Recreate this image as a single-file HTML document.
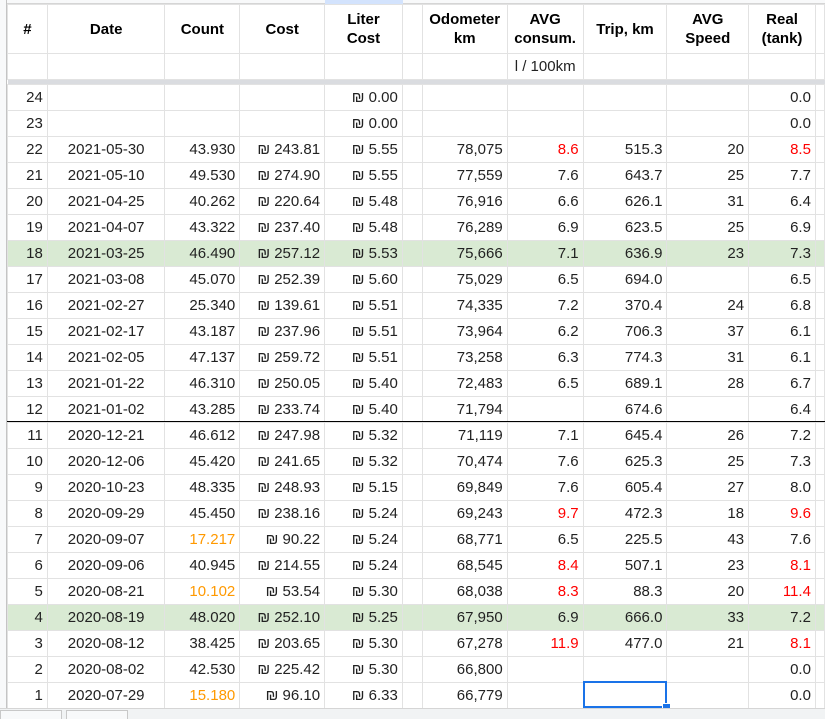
<!DOCTYPE html>
<html><head><meta charset="utf-8"><style>
body{margin:0;width:825px;height:718px;overflow:hidden;background:#fff;font-family:"Liberation Sans",Arial,sans-serif;color:#222;position:relative}
#top{position:absolute;left:0;top:0;width:825px;height:4px;background:#f8f9fa;border-bottom:1px solid #d5d5d5;box-sizing:border-box}
#hl{position:absolute;left:325px;top:0;width:78px;height:4px;background:#d3e3fd}
#side{position:absolute;left:0;top:0;width:7px;height:708px;background:#f8f9fa;border-right:1px solid #c4c4c4;box-sizing:border-box}
table{position:absolute;left:7px;top:4px;border-collapse:collapse;table-layout:fixed}
td{border:1px solid #e2e2e2;padding:0 4px;font-size:15px;height:25px;text-align:right;white-space:nowrap;overflow:hidden;box-sizing:border-box}
tr.h td{font-weight:bold;text-align:center;height:49px;line-height:19px;font-size:15px;color:#000}
tr.u td{height:26px}
tr.sep td{height:5px;background:#dadce0;border:none;padding:0}
tr.r td{height:26px}
tr.g td{background:#d9ead3}
tr.bb td{border-bottom:1px solid #000 !important}
td.c{text-align:center}
.red{color:#ff0000}.or{color:#ff9900}
#sel{position:absolute;left:583px;top:681px;width:84px;height:27px;border:2px solid #1a73e8;box-sizing:border-box}
#hd{position:absolute;left:662px;top:703px;width:7px;height:7px;background:#1a73e8;border:1px solid #fff}
#line{position:absolute;left:7px;top:421px;width:818px;height:1px;background:#000}
#bot{position:absolute;left:0;top:708px;width:825px;height:10px;background:#f1f3f4;border-top:1px solid #d5d5d5}
.tab{position:absolute;top:710px;height:8px;border:1px solid #c8c8c8;border-bottom:none;background:#f8f9fa}
</style></head><body>
<div id="top"></div><div id="hl"></div><div id="side"></div>
<table>
<colgroup><col style="width:40px"><col style="width:118px"><col style="width:75px"><col style="width:85px"><col style="width:78px"><col style="width:20px"><col style="width:85px"><col style="width:76px"><col style="width:84px"><col style="width:82px"><col style="width:67px"><col style="width:8px"></colgroup>
<tr class="h"><td>#</td><td>Date</td><td>Count</td><td>Cost</td><td>Liter<br>Cost</td><td></td><td>Odometer<br>km</td><td>AVG<br>consum.</td><td>Trip, km</td><td>AVG<br>Speed</td><td>Real<br>(tank)</td><td></td></tr>
<tr class="u"><td></td><td></td><td></td><td></td><td></td><td></td><td></td><td class="c" style="font-weight:normal">l / 100km</td><td></td><td></td><td></td><td></td></tr>
<tr class="sep"><td colspan="12"></td></tr>
<tr class="r"><td>24</td><td></td><td></td><td></td><td>₪ 0.00</td><td></td><td></td><td></td><td></td><td></td><td>0.0</td><td></td></tr>
<tr class="r"><td>23</td><td></td><td></td><td></td><td>₪ 0.00</td><td></td><td></td><td></td><td></td><td></td><td>0.0</td><td></td></tr>
<tr class="r"><td>22</td><td class="c">2021-05-30</td><td>43.930</td><td>₪ 243.81</td><td>₪ 5.55</td><td></td><td>78,075</td><td class="red">8.6</td><td>515.3</td><td>20</td><td class="red">8.5</td><td></td></tr>
<tr class="r"><td>21</td><td class="c">2021-05-10</td><td>49.530</td><td>₪ 274.90</td><td>₪ 5.55</td><td></td><td>77,559</td><td>7.6</td><td>643.7</td><td>25</td><td>7.7</td><td></td></tr>
<tr class="r"><td>20</td><td class="c">2021-04-25</td><td>40.262</td><td>₪ 220.64</td><td>₪ 5.48</td><td></td><td>76,916</td><td>6.6</td><td>626.1</td><td>31</td><td>6.4</td><td></td></tr>
<tr class="r"><td>19</td><td class="c">2021-04-07</td><td>43.322</td><td>₪ 237.40</td><td>₪ 5.48</td><td></td><td>76,289</td><td>6.9</td><td>623.5</td><td>25</td><td>6.9</td><td></td></tr>
<tr class="r g"><td>18</td><td class="c">2021-03-25</td><td>46.490</td><td>₪ 257.12</td><td>₪ 5.53</td><td></td><td>75,666</td><td>7.1</td><td>636.9</td><td>23</td><td>7.3</td><td></td></tr>
<tr class="r"><td>17</td><td class="c">2021-03-08</td><td>45.070</td><td>₪ 252.39</td><td>₪ 5.60</td><td></td><td>75,029</td><td>6.5</td><td>694.0</td><td></td><td>6.5</td><td></td></tr>
<tr class="r"><td>16</td><td class="c">2021-02-27</td><td>25.340</td><td>₪ 139.61</td><td>₪ 5.51</td><td></td><td>74,335</td><td>7.2</td><td>370.4</td><td>24</td><td>6.8</td><td></td></tr>
<tr class="r"><td>15</td><td class="c">2021-02-17</td><td>43.187</td><td>₪ 237.96</td><td>₪ 5.51</td><td></td><td>73,964</td><td>6.2</td><td>706.3</td><td>37</td><td>6.1</td><td></td></tr>
<tr class="r"><td>14</td><td class="c">2021-02-05</td><td>47.137</td><td>₪ 259.72</td><td>₪ 5.51</td><td></td><td>73,258</td><td>6.3</td><td>774.3</td><td>31</td><td>6.1</td><td></td></tr>
<tr class="r"><td>13</td><td class="c">2021-01-22</td><td>46.310</td><td>₪ 250.05</td><td>₪ 5.40</td><td></td><td>72,483</td><td>6.5</td><td>689.1</td><td>28</td><td>6.7</td><td></td></tr>
<tr class="r"><td>12</td><td class="c">2021-01-02</td><td>43.285</td><td>₪ 233.74</td><td>₪ 5.40</td><td></td><td>71,794</td><td></td><td>674.6</td><td></td><td>6.4</td><td></td></tr>
<tr class="r"><td>11</td><td class="c">2020-12-21</td><td>46.612</td><td>₪ 247.98</td><td>₪ 5.32</td><td></td><td>71,119</td><td>7.1</td><td>645.4</td><td>26</td><td>7.2</td><td></td></tr>
<tr class="r"><td>10</td><td class="c">2020-12-06</td><td>45.420</td><td>₪ 241.65</td><td>₪ 5.32</td><td></td><td>70,474</td><td>7.6</td><td>625.3</td><td>25</td><td>7.3</td><td></td></tr>
<tr class="r"><td>9</td><td class="c">2020-10-23</td><td>48.335</td><td>₪ 248.93</td><td>₪ 5.15</td><td></td><td>69,849</td><td>7.6</td><td>605.4</td><td>27</td><td>8.0</td><td></td></tr>
<tr class="r"><td>8</td><td class="c">2020-09-29</td><td>45.450</td><td>₪ 238.16</td><td>₪ 5.24</td><td></td><td>69,243</td><td class="red">9.7</td><td>472.3</td><td>18</td><td class="red">9.6</td><td></td></tr>
<tr class="r"><td>7</td><td class="c">2020-09-07</td><td class="or">17.217</td><td>₪ 90.22</td><td>₪ 5.24</td><td></td><td>68,771</td><td>6.5</td><td>225.5</td><td>43</td><td>7.6</td><td></td></tr>
<tr class="r"><td>6</td><td class="c">2020-09-06</td><td>40.945</td><td>₪ 214.55</td><td>₪ 5.24</td><td></td><td>68,545</td><td class="red">8.4</td><td>507.1</td><td>23</td><td class="red">8.1</td><td></td></tr>
<tr class="r"><td>5</td><td class="c">2020-08-21</td><td class="or">10.102</td><td>₪ 53.54</td><td>₪ 5.30</td><td></td><td>68,038</td><td class="red">8.3</td><td>88.3</td><td>20</td><td class="red">11.4</td><td></td></tr>
<tr class="r g"><td>4</td><td class="c">2020-08-19</td><td>48.020</td><td>₪ 252.10</td><td>₪ 5.25</td><td></td><td>67,950</td><td>6.9</td><td>666.0</td><td>33</td><td>7.2</td><td></td></tr>
<tr class="r"><td>3</td><td class="c">2020-08-12</td><td>38.425</td><td>₪ 203.65</td><td>₪ 5.30</td><td></td><td>67,278</td><td class="red">11.9</td><td>477.0</td><td>21</td><td class="red">8.1</td><td></td></tr>
<tr class="r"><td>2</td><td class="c">2020-08-02</td><td>42.530</td><td>₪ 225.42</td><td>₪ 5.30</td><td></td><td>66,800</td><td></td><td></td><td></td><td>0.0</td><td></td></tr>
<tr class="r"><td>1</td><td class="c">2020-07-29</td><td class="or">15.180</td><td>₪ 96.10</td><td>₪ 6.33</td><td></td><td>66,779</td><td></td><td></td><td></td><td>0.0</td><td></td></tr>
</table>
<div id="line"></div>
<div id="sel"></div><div id="hd"></div>
<div id="bot"></div>
<div class="tab" style="left:0;width:60px"></div>
<div class="tab" style="left:66px;width:60px"></div>
</body></html>
